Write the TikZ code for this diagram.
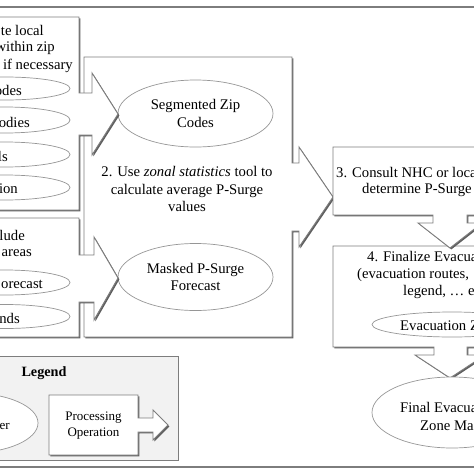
\documentclass[tikz,border=0pt]{standalone}
\usepackage{fontspec}
\setmainfont{Liberation Serif}
\usetikzlibrary{shapes.geometric}
\usetikzlibrary{shadows}
\usetikzlibrary{positioning}
\definecolor{boxgray}{RGB}{125, 125, 125}
\definecolor{shadowgray}{RGB}{95, 95, 95}
\definecolor{ovalgray}{RGB}{150, 150, 150}
\definecolor{legendfill}{RGB}{242, 242, 242}
\tikzset{
  procbox/.style={draw=boxgray, fill=white, line width=0.9pt, line join=miter,
    drop shadow={shadow xshift=1.4pt, shadow yshift=-1.4pt, fill=shadowgray, opacity=1}},
  datalayer/.style={ellipse, draw=ovalgray, fill=white, line width=0.7pt, inner sep=0pt},
  txt/.style={inner sep=0pt, align=center, font=\fontsize{14.7}{17.5}\selectfont},
  smalltxt/.style={inner sep=0pt, align=center, font=\fontsize{13}{16}\selectfont},
}
\begin{document}
\begin{tikzpicture}[x=1pt, y=-1pt]
            \clip (0, 0) rectangle (474, 474);
            % Frame lines
            \draw[boxgray, line width=1.4pt] (0, 7) -- (474, 7);
            \draw[boxgray, line width=1.4pt] (0, 467) -- (474, 467);
            % Step 2 box
            \draw[procbox] (84, 57) -- (292, 57) -- (292, 163) -- (299, 163) -- (299, 147) -- (333, 197)
                 -- (299, 247) -- (299, 231) -- (292, 231) -- (292, 337) -- (84, 337) -- cycle;
            \node[datalayer, minimum width=155pt, minimum height=67pt] (zip) at (195.5, 113.5) {};
            \node[txt] (ziptext) at (zip.center) {Segmented Zip\\Codes};
            \node[datalayer, minimum width=155pt, minimum height=67pt] (masked) at (195.5, 277) {};
            \node[txt] (maskedtext) at (masked.center) {Masked P-Surge\\Forecast};
            \node[txt] (step2) at (187, 189) {2. Use \textit{zonal statistics} tool to\\calculate average P-Surge\\values};
            % Step 1 box
            \draw[procbox] (-20, 17) -- (79, 17) -- (79, 93) -- (92, 93) -- (92, 73) -- (118, 114)
                 -- (92, 155) -- (92, 135) -- (79, 135) -- (79, 210) -- (-20, 210) -- cycle;
            \node[txt, anchor=east] (s1a) at (44, 30) {te local};
            \node[txt, anchor=east] (s1b) at (55, 48) {within zip};
            \node[txt, anchor=east] (s1c) at (73, 66) {if necessary};
            \node[datalayer, minimum width=130pt, minimum height=23pt] (lay1) at (5, 88.5) {};
            \node[txt, anchor=east] (lay1text) at (22, 90) {odes};
            \node[datalayer, minimum width=130pt, minimum height=26pt] (lay2) at (5, 120) {};
            \node[txt, anchor=east] (lay2text) at (30, 122) {odies};
            \node[datalayer, minimum width=130pt, minimum height=25pt] (lay3) at (5, 154.5) {};
            \node[txt, anchor=east] (lay3text) at (8, 156) {ls};
            \node[datalayer, minimum width=130pt, minimum height=25pt] (lay4) at (5, 187.5) {};
            \node[txt, anchor=east] (lay4text) at (18, 189) {ion};
            % Exclusion box
            \draw[procbox] (-20, 218) -- (79, 218) -- (79, 255) -- (94, 255) -- (94, 237) -- (118, 278)
                 -- (94, 320) -- (94, 302) -- (79, 302) -- (79, 337) -- (-20, 337) -- cycle;
            \node[txt, anchor=east] (s1d) at (25, 235) {lude};
            \node[txt, anchor=east] (s1e) at (32, 253) {areas};
            \node[datalayer, minimum width=130pt, minimum height=25pt] (lay5) at (5, 282.5) {};
            \node[txt, anchor=east] (lay5text) at (43, 284) {orecast};
            \node[datalayer, minimum width=130pt, minimum height=24pt] (lay6) at (5, 316.5) {};
            \node[txt, anchor=east] (lay6text) at (20, 318) {nds};
            % Step 4 box
            \draw[procbox] (333, 246) -- (500, 246) -- (500, 347) -- (467, 347) -- (467, 355) -- (485, 355)
                 -- (450, 378) -- (415, 355) -- (434, 355) -- (434, 347) -- (333, 347) -- cycle;
            \node[txt, anchor=west] (s4a) at (367, 257) {4. Finalize Evacua};
            \node[txt, anchor=west] (s4b) at (357, 275) {(evacuation routes,};
            \node[txt, anchor=west] (s4c) at (403, 292) {legend, \dots\ e};
            \node[datalayer, minimum width=160pt, minimum height=25pt] (evaczone) at (452, 324.5) {};
            \node[txt, anchor=west] (evactext) at (400, 326) {Evacuation Z};
            % Step 3 box
            \draw[procbox] (333, 147) -- (500, 147) -- (500, 215) -- (467, 215) -- (467, 223) -- (482, 223)
                 -- (450, 248) -- (418, 223) -- (433, 223) -- (433, 215) -- (333, 215) -- cycle;
            \node[txt, anchor=west] (s3a) at (336, 173) {3. Consult NHC or loca};
            \node[txt, anchor=west] (s3b) at (362, 190) {determine P-Surge};
            % Final map
            \node[datalayer, minimum width=160pt, minimum height=71pt] (final) at (452, 412.5) {};
            \node[txt, anchor=west] (finala) at (400, 407) {Final Evacua};
            \node[txt, anchor=west] (finalb) at (420, 426) {Zone Ma};
            % Legend
            \draw[procbox, fill=legendfill] (-10, 356) rectangle (178, 460);
            \node[inner sep=0pt, font=\fontsize{14.2}{16}\selectfont\bfseries] (legend) at (44, 373) {Legend};
            \node[datalayer, minimum width=136pt, minimum height=60pt] (leglayer) at (-30, 423) {};
            \node[smalltxt, anchor=east] (leglayertext) at (10, 426) {er};
            \draw[procbox] (49, 395) -- (138, 395) -- (138, 418) -- (153, 418) -- (153, 410) -- (168, 425)
                 -- (153, 440) -- (153, 432) -- (138, 432) -- (138, 455) -- (49, 455) -- cycle;
            \node[smalltxt] (legproc) at (93.5, 426) {Processing\\Operation};
\end{tikzpicture}
\end{document}
